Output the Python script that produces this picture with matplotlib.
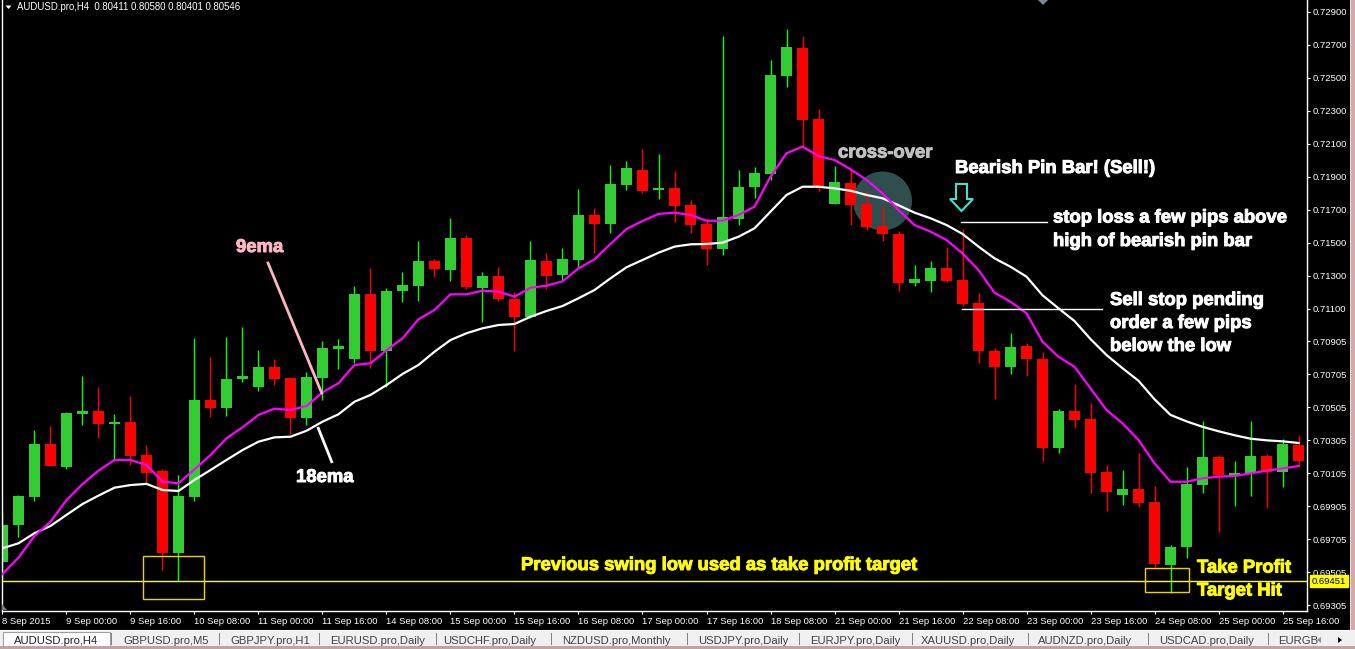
import numpy as np
import matplotlib
matplotlib.use("Agg")
import matplotlib.pyplot as plt
from matplotlib import transforms
from matplotlib import patheffects
from matplotlib.patches import Rectangle, Circle, Polygon

plt.rcParams['font.family'] = ['Liberation Sans', 'DejaVu Sans']

### Chart data (AUDUSD H4, 8 Sep - 25 Sep 2015) ###

opens = [0.69564, 0.69791, 0.69962, 0.70282, 0.70144, 0.70466, 0.70480, 0.70405, 0.70415, 0.70213,
         0.70118, 0.69621, 0.69962, 0.70548, 0.70502, 0.70674, 0.70629, 0.70748, 0.70682, 0.70441,
         0.70684, 0.70860, 0.70799, 0.71191, 0.70847, 0.71211, 0.71241, 0.71391, 0.71338, 0.71530,
         0.71229, 0.71300, 0.71161, 0.71053, 0.71391, 0.71306, 0.71399, 0.71670, 0.71617, 0.71852,
         0.71943, 0.71821, 0.71833, 0.71730, 0.71615, 0.71464, 0.71645, 0.71839, 0.71918, 0.72512,
         0.72682, 0.72251, 0.71736, 0.71866, 0.71736, 0.71603, 0.71555, 0.71259, 0.71271, 0.71349,
         0.71276, 0.71136, 0.70845, 0.70750, 0.70876, 0.70797, 0.70259, 0.70482, 0.70433, 0.70112,
         0.69975, 0.70009, 0.69930, 0.69550, 0.69656, 0.70035, 0.70203, 0.70092, 0.70108, 0.70209,
         0.70114, 0.70276]
highs = [0.69864, 0.69970, 0.70367, 0.70391, 0.70476, 0.70694, 0.70627, 0.70464, 0.70573, 0.70274,
         0.70128, 0.70094, 0.70926, 0.70809, 0.70930, 0.70991, 0.70851, 0.70797, 0.70690, 0.70716,
         0.70906, 0.70918, 0.71239, 0.71347, 0.71225, 0.71322, 0.71510, 0.71401, 0.71652, 0.71548,
         0.71324, 0.71355, 0.71205, 0.71512, 0.71439, 0.71470, 0.71827, 0.71712, 0.71973, 0.71997,
         0.72070, 0.72039, 0.71936, 0.71761, 0.71645, 0.72755, 0.71943, 0.71961, 0.72609, 0.72797,
         0.72755, 0.72312, 0.71967, 0.71947, 0.71817, 0.71722, 0.71573, 0.71367, 0.71391, 0.71476,
         0.71587, 0.71195, 0.70862, 0.70955, 0.70892, 0.70839, 0.70494, 0.70644, 0.70528, 0.70155,
         0.70124, 0.70227, 0.70027, 0.69670, 0.70141, 0.70421, 0.70215, 0.70179, 0.70421, 0.70221,
         0.70310, 0.70337]
lows = [0.69470, 0.69720, 0.69938, 0.70150, 0.70128, 0.70399, 0.70320, 0.70181, 0.70153, 0.70044,
        0.69518, 0.69451, 0.69938, 0.70445, 0.70453, 0.70659, 0.70605, 0.70641, 0.70344, 0.70399,
        0.70548, 0.70736, 0.70774, 0.70741, 0.70629, 0.71141, 0.71150, 0.71296, 0.71271, 0.71219,
        0.71023, 0.71149, 0.70845, 0.71047, 0.71223, 0.71271, 0.71344, 0.71441, 0.71562, 0.71821,
        0.71803, 0.71767, 0.71627, 0.71562, 0.71367, 0.71427, 0.71609, 0.71773, 0.71882, 0.72445,
        0.72082, 0.71815, 0.71736, 0.71609, 0.71579, 0.71514, 0.71209, 0.71239, 0.71203, 0.71265,
        0.71118, 0.70771, 0.70556, 0.70708, 0.70696, 0.70181, 0.70229, 0.70381, 0.69983, 0.69878,
        0.69914, 0.69902, 0.69538, 0.69377, 0.69593, 0.69987, 0.69750, 0.69908, 0.69969, 0.69896,
        0.70023, 0.70150]
closes = [0.69791, 0.69967, 0.70282, 0.70150, 0.70470, 0.70482, 0.70405, 0.70415, 0.70211, 0.70106,
          0.69621, 0.69967, 0.70548, 0.70502, 0.70676, 0.70694, 0.70748, 0.70674, 0.70441, 0.70688,
          0.70864, 0.70876, 0.71191, 0.70847, 0.71209, 0.71245, 0.71391, 0.71344, 0.71530, 0.71233,
          0.71300, 0.71161, 0.71053, 0.71397, 0.71300, 0.71403, 0.71670, 0.71617, 0.71858, 0.71955,
          0.71815, 0.71833, 0.71724, 0.71609, 0.71464, 0.71658, 0.71839, 0.71924, 0.72518, 0.72688,
          0.72247, 0.71839, 0.71870, 0.71732, 0.71599, 0.71553, 0.71259, 0.71280, 0.71349, 0.71271,
          0.71132, 0.70844, 0.70750, 0.70870, 0.70795, 0.70259, 0.70482, 0.70429, 0.70108, 0.69993,
          0.70009, 0.69924, 0.69555, 0.69659, 0.70040, 0.70203, 0.70096, 0.70108, 0.70209, 0.70114,
          0.70282, 0.70181]

# moving averages as drawn on the chart
ema9 = [0.69494, 0.69593, 0.69724, 0.69811, 0.69942, 0.70039, 0.70120, 0.70185, 0.70185, 0.70155,
        0.70053, 0.70044, 0.70128, 0.70215, 0.70316, 0.70383, 0.70458, 0.70496, 0.70488, 0.70512,
        0.70595, 0.70650, 0.70761, 0.70771, 0.70851, 0.70922, 0.71038, 0.71094, 0.71189, 0.71189,
        0.71211, 0.71205, 0.71175, 0.71229, 0.71241, 0.71268, 0.71346, 0.71401, 0.71494, 0.71585,
        0.71633, 0.71676, 0.71684, 0.71670, 0.71635, 0.71635, 0.71670, 0.71720, 0.71902, 0.72044,
        0.72084, 0.72027, 0.72003, 0.71947, 0.71882, 0.71801, 0.71700, 0.71609, 0.71569, 0.71518,
        0.71437, 0.71336, 0.71199, 0.71144, 0.71074, 0.70902, 0.70810, 0.70750, 0.70619, 0.70488,
        0.70407, 0.70306, 0.70165, 0.70053, 0.70053, 0.70074, 0.70084, 0.70088, 0.70104, 0.70120,
        0.70134, 0.70148]
ema18 = [0.69650, 0.69680, 0.69741, 0.69785, 0.69852, 0.69918, 0.69969, 0.70017, 0.70033, 0.70040,
         0.70003, 0.69997, 0.70064, 0.70124, 0.70185, 0.70245, 0.70296, 0.70322, 0.70326, 0.70362,
         0.70417, 0.70462, 0.70538, 0.70579, 0.70639, 0.70706, 0.70761, 0.70841, 0.70912, 0.70953,
         0.70983, 0.71003, 0.71009, 0.71053, 0.71088, 0.71118, 0.71165, 0.71215, 0.71286, 0.71353,
         0.71397, 0.71441, 0.71478, 0.71492, 0.71494, 0.71502, 0.71538, 0.71589, 0.71690, 0.71791,
         0.71841, 0.71841, 0.71831, 0.71817, 0.71791, 0.71771, 0.71729, 0.71684, 0.71650, 0.71609,
         0.71555, 0.71478, 0.71407, 0.71356, 0.71296, 0.71183, 0.71104, 0.71027, 0.70918, 0.70821,
         0.70741, 0.70665, 0.70553, 0.70458, 0.70419, 0.70386, 0.70359, 0.70335, 0.70314, 0.70304,
         0.70298, 0.70288]

take_profit = 0.69451

price_ticks = [0.72900, 0.72700, 0.72500, 0.72300, 0.72100, 0.71900, 0.71700, 0.71500, 0.71300,
               0.71100, 0.70905, 0.70705, 0.70505, 0.70305, 0.70105, 0.69905, 0.69705, 0.69505, 0.69305]

time_labels = ["8 Sep 2015", "9 Sep 00:00", "9 Sep 16:00", "10 Sep 08:00", "11 Sep 00:00",
               "11 Sep 16:00", "14 Sep 08:00", "15 Sep 00:00", "15 Sep 16:00", "16 Sep 08:00",
               "17 Sep 00:00", "17 Sep 16:00", "18 Sep 08:00", "21 Sep 00:00", "21 Sep 16:00",
               "22 Sep 08:00", "23 Sep 00:00", "23 Sep 16:00", "24 Sep 08:00", "25 Sep 00:00",
               "25 Sep 16:00"]

tab_names = ["AUDUSD.pro,H4", "GBPUSD.pro,M5", "GBPJPY.pro,H1", "EURUSD.pro,Daily",
             "USDCHF.pro,Daily", "NZDUSD.pro,Monthly", "USDJPY.pro,Daily", "EURJPY.pro,Daily",
             "XAUUSD.pro,Daily", "AUDNZD.pro,Daily", "USDCAD.pro,Daily", "EURGB"]

### Figure setup ###

W, H = 1355, 649
fig = plt.figure(figsize=(W / 100, H / 100), dpi=100, facecolor='black')
# pixel coords measured from the top-left corner of the screenshot
pix = transforms.Affine2D().scale(1 / W, -1 / H).translate(0, 1) + fig.transFigure

ax = fig.add_axes([2 / W, 1 - 611 / H, 1305 / W, 611 / H], facecolor='black')

### Candles ###

idx = np.arange(len(opens))
o = np.array(opens)
h = np.array(highs)
l = np.array(lows)
c = np.array(closes)
up = c >= o
body_col = np.where(up, '#32cd32', '#ff0000')
wick_col = np.where(up, '#00ff00', '#ff0000')

ax.vlines(idx, l, h, colors=wick_col, lw=1, zorder=2)
ax.bar(idx, np.maximum(np.abs(c - o), 0.00003), bottom=np.minimum(o, c), width=0.69,
       color=body_col, lw=0, zorder=2.5)

ax.plot(idx, ema18, color='white', lw=1.6, zorder=3)
ax.plot(idx, ema9, color='#ff00ff', lw=1.6, zorder=3)
ax.axhline(take_profit, color='#ffff00', lw=1, zorder=4)

### Axes styling ###

ax.spines['top'].set_visible(False)
for s in ['left', 'bottom', 'right']:
    ax.spines[s].set_color('white')
    ax.spines[s].set_linewidth(1)

ax.yaxis.tick_right()
ax.set_yticks(price_ticks)
ax.set_yticklabels([f'{p:.5f}' for p in price_ticks])
ax.tick_params(axis='y', colors='white', labelsize=6.8, length=2.5, pad=1.5, width=0.8)

ax.set_xticks(idx[::4])
ax.set_xticklabels(time_labels, ha='left')
ax.tick_params(axis='x', colors='white', labelsize=6.8, length=2.5, pad=1.5, width=0.8)

ax.annotate(f'{take_profit:.5f}', xy=(1, take_profit), xycoords=('axes fraction', 'data'),
            xytext=(3.2, 0), textcoords='offset points', va='center', ha='left', fontsize=6.8,
            color='black', bbox=dict(boxstyle='square,pad=0.2', fc='#ffff00', ec='#ffff00'),
            annotation_clip=False, zorder=10)

### Annotations ###

ax.add_patch(Circle((882.5, 201), 29.5, transform=pix, fc='#2f4f4f', ec='none', zorder=1))


def note(x, y, s, colour):
    t = fig.text(x, y, s, color=colour, fontsize=13.3, fontweight='bold', transform=pix,
                 va='center', ha='left', zorder=6)
    t.set_path_effects([patheffects.Stroke(linewidth=0.7, foreground=colour), patheffects.Normal()])


note(236, 247.5, '9ema', '#ffb6c1')
note(296, 477.5, '18ema', 'white')
note(838, 153, 'cross-over', '#c0c0c0')
note(955, 168.5, 'Bearish Pin Bar! (Sell!)', 'white')
note(1053, 218, 'stop loss a few pips above', 'white')
note(1053, 241.5, 'high of bearish pin bar', 'white')
note(1110, 300.5, 'Sell stop pending', 'white')
note(1110, 323.5, 'order a few pips', 'white')
note(1110, 346.5, 'below the low', 'white')
note(521, 565.5, 'Previous swing low used as take profit target', '#ffff00')
note(1197, 568, 'Take Profit', '#ffff00')
note(1197, 591, 'Target Hit', '#ffff00')

ax.plot([268, 321.7], [263, 393], transform=pix, color='#ffb6c1', lw=2, clip_on=False, zorder=5)
ax.plot([318.3, 331.7], [428.3, 461.7], transform=pix, color='white', lw=2, clip_on=False, zorder=5)
ax.plot([961, 1047], [222, 222], transform=pix, color='white', lw=1, zorder=5)
ax.plot([962, 1102], [308.5, 308.5], transform=pix, color='white', lw=1, zorder=5)

ax.add_patch(Polygon([(956, 184), (967, 184), (967, 199), (973, 199), (961.5, 211), (950, 199), (956, 199)],
                     closed=True, fill=False, ec='#40e0d0', lw=1.5, transform=pix, zorder=5))

ax.add_patch(Rectangle((143, 556), 61, 43, transform=pix, fill=False, ec='#f0d000', lw=1, zorder=5))
ax.add_patch(Rectangle((1145, 568), 44, 24, transform=pix, fill=False, ec='#f0d000', lw=1, zorder=5))

# header line and small markers
fig.add_artist(Polygon([(5.5, 5.5), (11.5, 5.5), (8.5, 9)], closed=True, fc='white', ec='none', transform=pix))
fig.text(17, 7, 'AUDUSD.pro,H4  0.80411 0.80580 0.80401 0.80546', color='white', fontsize=6.9,
         va='center', ha='left', transform=pix)
fig.add_artist(Polygon([(1038, 0), (1048, 0), (1043, 5)], closed=True, fc='#778899', ec='none', transform=pix))
fig.add_artist(Polygon([(2, 604), (2, 610), (7, 610)], closed=True, fc='#708090', ec='none', transform=pix))

### Bottom tab bar ###

fig.add_artist(Rectangle((0, 630), W, 19, transform=pix, fc='#f0f0f0', ec='none'))
fig.add_artist(Rectangle((0, 629.5), W, 1.2, transform=pix, fc='white', ec='none'))
fig.add_artist(Rectangle((3, 632), 107, 15, transform=pix, fc='white', ec='#a0a0a0', lw=0.8))

tab_x = [14, 123, 230, 330, 443, 562, 698, 810, 921, 1038, 1159, 1278]
sep_x = [111, 219, 319, 436, 551, 687, 799, 912, 1028, 1148, 1268]
for x in sep_x:
    fig.add_artist(Rectangle((x, 633), 1, 12, transform=pix, fc='#808080', ec='none'))
for i, name in enumerate(tab_names):
    fig.text(tab_x[i], 640.5, name, color='#202020' if i == 0 else '#404040', fontsize=8.1,
             va='center', ha='left', transform=pix)
fig.add_artist(Rectangle((1314, 632), 41, 14, transform=pix, fc='#f0f0f0', ec='none'))
fig.add_artist(Polygon([(1321, 637), (1321, 643), (1317, 640)], closed=True, fc='#909090', ec='none', transform=pix))
fig.add_artist(Polygon([(1338, 637), (1338, 643), (1342, 640)], closed=True, fc='black', ec='none', transform=pix))

fig.add_artist(Rectangle((0, 646), W, 3, transform=pix, fc='#c4a0a0', ec='none'))
fig.add_artist(Rectangle((1349.5, 0), 1.2, 630, transform=pix, fc='#e0e0e0', ec='none'))
fig.add_artist(Rectangle((1351, 0), 4, 630, transform=pix, fc='#d8a8a8', ec='none'))

ax.set_xlim(-0.03, 81.53)
ax.set_ylim(0.692697, 0.729727)

fig.savefig('out.png', dpi=100, facecolor='black')
